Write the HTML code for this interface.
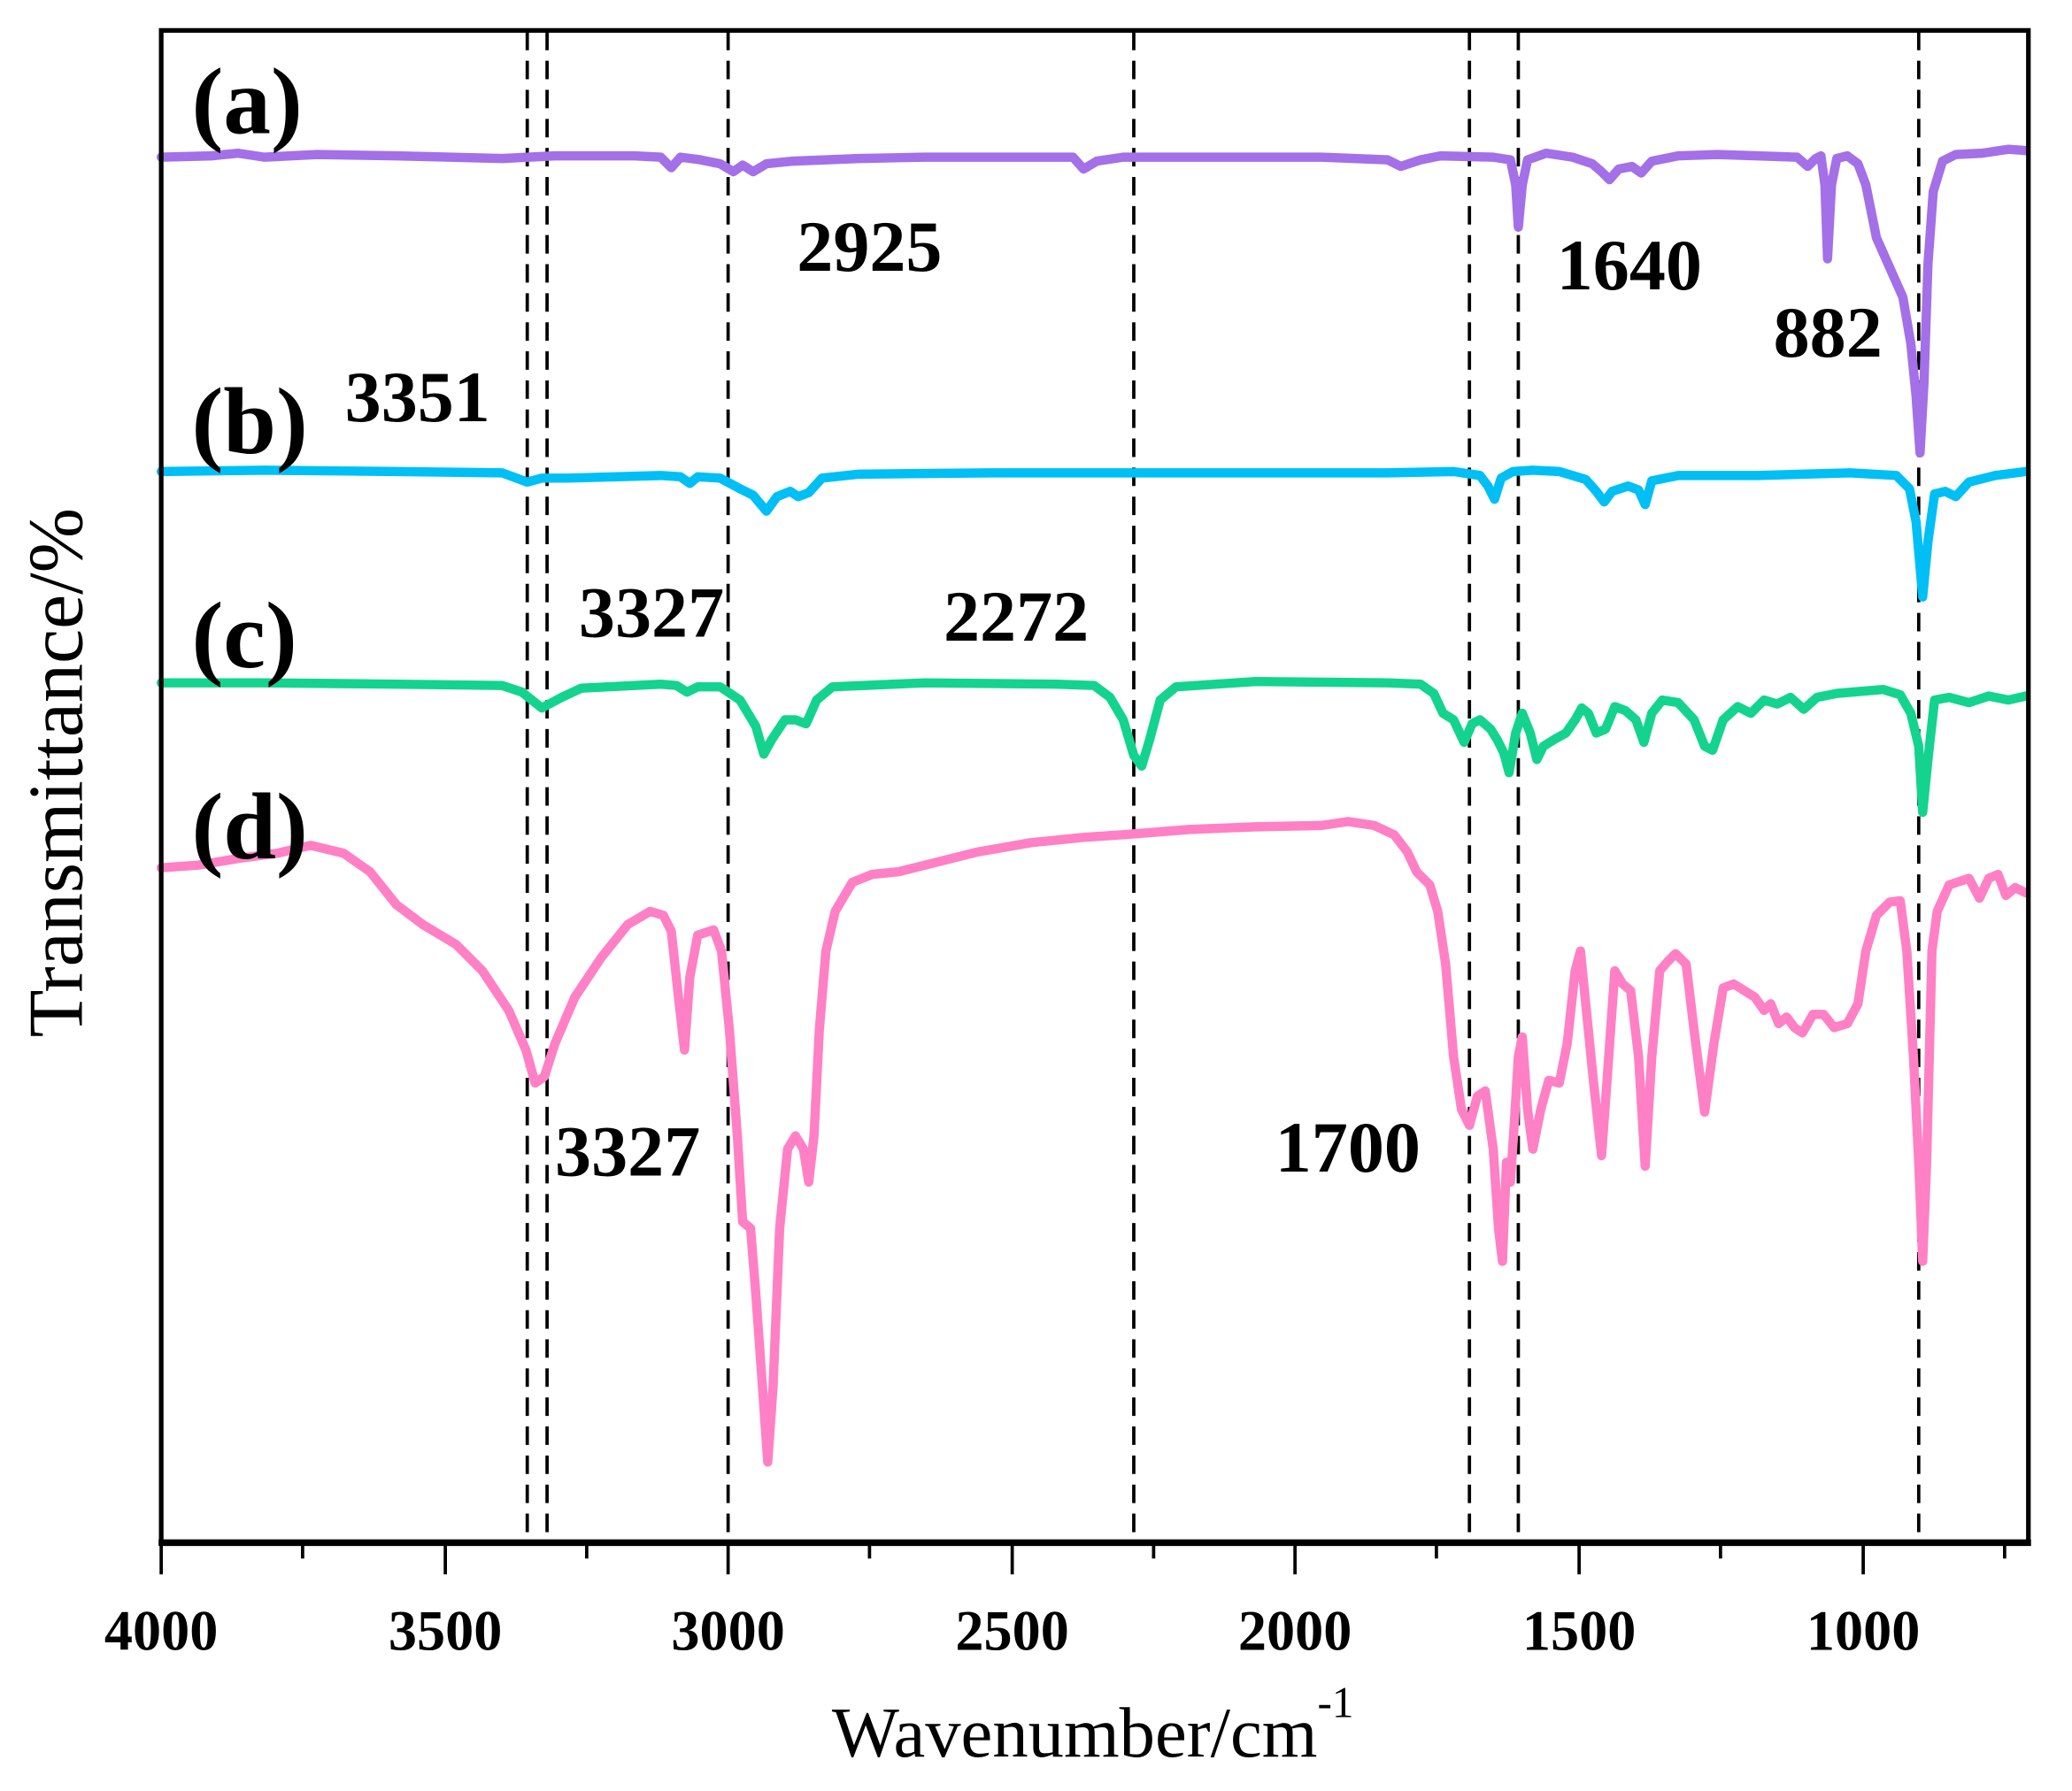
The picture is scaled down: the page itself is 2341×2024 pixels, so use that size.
<!DOCTYPE html>
<html><head><meta charset="utf-8"><style>
html,body{margin:0;padding:0;background:#fff}
svg{display:block}
text{font-family:"Liberation Serif",serif}
</style></head><body>
<svg width="2341" height="2024" viewBox="0 0 1568 1356" preserveAspectRatio="none" xmlns="http://www.w3.org/2000/svg">
<g stroke="#000" stroke-width="2.5" stroke-dasharray="14,8" fill="none">
<line x1="399" y1="24" x2="399" y2="1168"/><line x1="414" y1="24" x2="414" y2="1168"/>
<line x1="551" y1="24" x2="551" y2="1168"/><line x1="858" y1="24" x2="858" y2="1168"/>
<line x1="1112" y1="24" x2="1112" y2="1168"/><line x1="1149" y1="24" x2="1149" y2="1168"/>
<line x1="1452" y1="24" x2="1452" y2="1168"/>
</g>
<g fill="none" stroke-width="7" stroke-linejoin="round" stroke-linecap="round">
<polyline stroke="#a370e8" points="122,119 160,118 180,116 200,119 240,117 300,118 380,120 420,118 480,118 500,119 508,127 515,119 530,121 545,124 555,130 562,125 570,130 580,124 600,122 650,120 700,119 760,119 812,119 820,128 830,122 850,119 900,119 1000,119 1050,121 1060,126 1075,121 1090,118 1130,119 1143,121 1147,140 1149,172 1152,140 1156,121 1170,116 1190,119 1205,124 1212,130 1218,136 1225,128 1235,126 1242,131 1250,122 1270,118 1300,117 1360,119 1368,126 1374,120 1378,118 1381,140 1383,196 1386,140 1390,120 1398,118 1406,124 1412,140 1420,180 1440,225 1446,260 1450,300 1453,343 1456,290 1459,200 1463,145 1470,122 1480,117 1500,116 1520,113 1533,114"/>
<polyline stroke="#00bff5" points="122,357 200,356 300,357 380,358 399,365 410,362 430,362 500,360 515,361 522,366 528,361 545,362 560,370 570,375 580,387 588,376 598,372 604,376 612,373 622,362 650,359 750,358 850,358 950,358 1050,358 1100,357 1120,360 1126,368 1131,378 1136,362 1145,357 1160,356 1180,357 1200,363 1208,372 1214,380 1220,372 1232,368 1240,371 1245,382 1250,364 1270,360 1330,360 1400,358 1435,360 1445,370 1450,395 1455,452 1459,410 1464,374 1472,372 1480,376 1490,365 1510,360 1533,357"/>
<polyline stroke="#14d38f" points="122,517 200,517 300,518 380,519 395,524 410,536 425,528 440,521 500,518 512,519 520,524 528,520 545,520 560,530 572,550 578,571 584,560 594,545 602,545 610,548 618,530 630,520 700,517 800,518 828,519 840,528 850,545 858,572 864,580 870,560 878,530 890,520 950,516 1050,517 1075,518 1085,525 1092,540 1100,545 1108,562 1114,548 1120,545 1128,552 1133,560 1138,570 1142,585 1147,555 1152,540 1158,555 1163,575 1168,565 1176,560 1185,555 1192,545 1197,536 1202,540 1208,555 1215,552 1222,535 1230,538 1238,545 1244,562 1250,540 1258,530 1270,532 1282,545 1290,565 1296,568 1304,545 1315,535 1325,540 1335,530 1345,533 1355,528 1365,537 1375,528 1390,525 1425,522 1438,526 1446,540 1452,565 1455,615 1459,575 1464,530 1475,528 1490,532 1505,527 1520,530 1533,527"/>
<polyline stroke="#ff80c4" points="122,657 150,655 180,650 210,646 235,640 260,646 280,660 300,685 320,700 345,715 365,735 385,765 398,795 405,820 412,815 420,790 435,755 455,725 475,700 492,690 502,693 508,705 514,760 518,795 522,740 528,708 540,704 546,720 552,780 558,860 562,925 568,930 572,980 577,1050 581,1107 585,1050 590,930 596,870 602,860 608,870 612,895 616,860 620,780 625,720 632,690 645,668 660,662 680,660 700,655 740,645 780,638 820,634 850,632 900,628 950,626 1000,625 1020,622 1040,625 1055,632 1065,645 1072,660 1082,670 1088,690 1094,730 1100,800 1106,840 1112,852 1118,830 1124,826 1130,870 1134,930 1137,955 1140,880 1143,895 1146,850 1149,800 1152,785 1156,840 1160,870 1166,840 1172,818 1180,820 1186,790 1192,735 1196,720 1200,760 1206,820 1212,875 1216,820 1222,735 1228,745 1234,750 1240,800 1245,883 1250,800 1256,735 1262,728 1268,722 1276,730 1282,780 1290,842 1297,790 1304,748 1312,745 1320,750 1328,755 1335,765 1340,760 1346,775 1352,770 1358,778 1364,782 1372,768 1380,768 1388,778 1398,775 1406,760 1412,720 1420,693 1430,683 1438,682 1443,720 1448,800 1452,880 1455,955 1458,880 1462,720 1466,690 1475,670 1490,665 1498,680 1505,665 1512,662 1518,678 1525,672 1533,676"/>
</g>
<g stroke="#000" fill="none">
<polyline stroke-width="3.5" points="122,1168 122,23 1535,23 1535,1168"/>
<line x1="120" y1="1168" x2="1537" y2="1168" stroke-width="5"/>
<g stroke-width="2.5">
<line x1="122" y1="1168" x2="122" y2="1192"/><line x1="229" y1="1168" x2="229" y2="1180"/>
<line x1="337" y1="1168" x2="337" y2="1192"/><line x1="444" y1="1168" x2="444" y2="1180"/>
<line x1="551" y1="1168" x2="551" y2="1192"/><line x1="658" y1="1168" x2="658" y2="1180"/>
<line x1="766" y1="1168" x2="766" y2="1192"/><line x1="873" y1="1168" x2="873" y2="1180"/>
<line x1="980" y1="1168" x2="980" y2="1192"/><line x1="1087" y1="1168" x2="1087" y2="1180"/>
<line x1="1195" y1="1168" x2="1195" y2="1192"/><line x1="1302" y1="1168" x2="1302" y2="1180"/>
<line x1="1410" y1="1168" x2="1410" y2="1192"/><line x1="1517" y1="1168" x2="1517" y2="1180"/>
</g></g>
<g font-weight="bold" font-size="43" text-anchor="middle" fill="#000">
<text x="122" y="1249">4000</text><text x="337" y="1249">3500</text><text x="551" y="1249">3000</text>
<text x="766" y="1249">2500</text><text x="980" y="1249">2000</text><text x="1195" y="1249">1500</text>
<text x="1410" y="1249">1000</text>
</g>
<text x="827" y="1330" font-size="54" text-anchor="middle">Wavenumber/cm<tspan font-size="33" dy="-30">-1</tspan></text>
<text transform="translate(62,585) rotate(-90)" font-size="59" text-anchor="middle">Transmittance/%</text>
<g font-weight="bold" fill="#000">
<g font-size="72"><text x="145" y="101">(a)</text><text x="145" y="343">(b)</text><text x="145" y="505">(c)</text><text x="145" y="650">(d)</text></g>
<g font-size="55"><text x="603" y="205">2925</text><text x="1178" y="219">1640</text><text x="1342" y="270">882</text>
<text x="261" y="319">3351</text><text x="438" y="482">3327</text><text x="714" y="485">2272</text>
<text x="420" y="890">3327</text><text x="965" y="887">1700</text></g>
</g>
</svg>
</body></html>
